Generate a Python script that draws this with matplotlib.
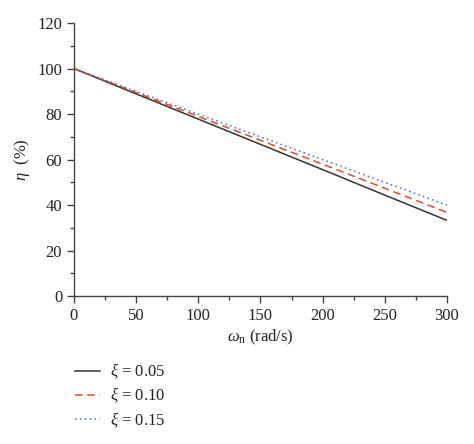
import matplotlib
matplotlib.use("Agg")
import matplotlib.pyplot as plt
from matplotlib.ticker import MultipleLocator

plt.rcParams['font.family'] = 'Liberation Serif'
plt.rcParams['mathtext.fontset'] = 'custom'
plt.rcParams['mathtext.rm'] = 'Liberation Serif'
plt.rcParams['mathtext.it'] = 'Liberation Serif:italic'

# data
omega = [0, 50, 100, 150, 200, 250, 300]
eta_005 = [100, 88.9, 77.8, 66.7, 55.6, 44.4, 33.3]
eta_010 = [100, 89.5, 79.0, 68.5, 58.0, 47.4, 36.8]
eta_015 = [100, 90.0, 80.0, 70.0, 60.0, 50.0, 40.0]
labels = [r'$\xi$ = 0.05', r'$\xi$ = 0.10', r'$\xi$ = 0.15']

fig = plt.figure(figsize=(4.74, 4.44), dpi=100)
ax = fig.add_axes([0.156, 0.333, 0.787, 0.615])

ax.plot(omega, eta_005, color='#333333', lw=1.1, ls='-', label=labels[0])
ax.plot(omega, eta_010, color='#d4502c', lw=1.1, ls=(0, (5, 3)), label=labels[1])
ax.plot(omega, eta_015, color='#4a66c0', lw=1.1, ls=(0, (1, 2.2)), label=labels[2])

ax.set_xlim(0, 300)
ax.set_ylim(0, 120)
ax.xaxis.set_major_locator(MultipleLocator(50))
ax.xaxis.set_minor_locator(MultipleLocator(25))
ax.yaxis.set_major_locator(MultipleLocator(20))
ax.yaxis.set_minor_locator(MultipleLocator(10))

for s in ['top', 'right']:
    ax.spines[s].set_visible(False)
for s in ['left', 'bottom']:
    ax.spines[s].set_color('#444444')
    ax.spines[s].set_linewidth(1.0)
ax.tick_params(which='major', direction='out', length=5, width=1, color='#444444',
               labelsize=12, labelcolor='#222222')
ax.tick_params(which='minor', direction='out', length=3, width=1, color='#444444')

ax.set_xlabel(r'$\omega_{\rm n}$ (rad/s)', fontsize=12, color='#222222', labelpad=3)
ax.set_ylabel(r'$\eta$  (%)', fontsize=12, color='#222222', labelpad=4)

fig.legend(loc='upper left', bbox_to_anchor=(0.145, 0.2), frameon=False,
           fontsize=12, handlelength=1.5, handletextpad=0.55, labelspacing=0.28,
           borderaxespad=0, labelcolor='#222222')

fig.savefig('out.png', dpi=100)
